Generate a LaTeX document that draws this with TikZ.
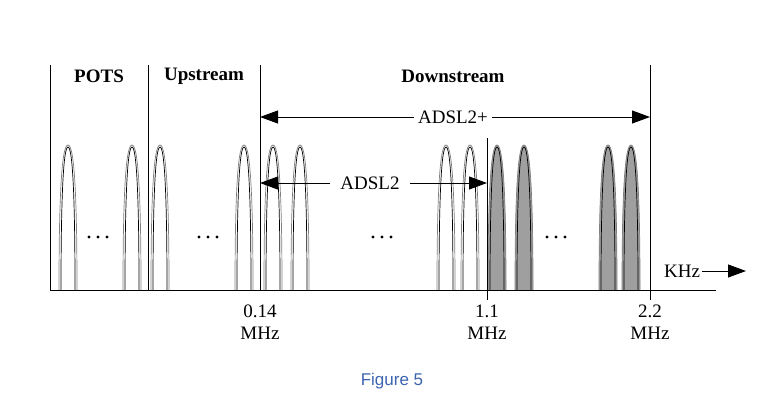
\documentclass[tikz,border=0pt]{standalone}
\usepackage{fontspec}
\setmainfont{Liberation Serif}
\newfontfamily\figfont{Liberation Sans}
\usetikzlibrary{arrows.meta}
\definecolor{figblue}{RGB}{60,100,175}
\tikzset{
  vline/.style={line width=0.9pt},
  arr/.style={line width=0.9pt,-{Triangle[length=18pt,width=13pt]}},
  lbl/.style={font=\fontsize{19}{22}\selectfont, inner sep=1pt},
  blbl/.style={font=\fontsize{19}{22}\selectfont\bfseries, inner sep=1pt},
  dotstyle/.style={circle,fill=black,inner sep=0pt,minimum size=3.2pt},
}
\newcommand{\hump}[2]{%
  \fill[#2] (#1-9,290) .. controls (#1-9,190) and (#1-6,145) .. (#1,145) .. controls (#1+6,145) and (#1+9,190) .. (#1+9,290) -- cycle;
  \draw[gray,line width=0.7pt] (#1-9,290) .. controls (#1-9,190) and (#1-6,145) .. (#1,145) .. controls (#1+6,145) and (#1+9,190) .. (#1+9,290);
  \draw[black,line width=0.7pt] (#1-7,290) .. controls (#1-7,195) and (#1-4.5,147) .. (#1,147) .. controls (#1+4.5,147) and (#1+7,195) .. (#1+7,290);
}
\begin{document}
\begin{tikzpicture}[x=1pt,y=-1pt]
\useasboundingbox (0,0) rectangle (783,412);
\foreach \c in {68,132,160,244,273,300,446,470} {\hump{\c}{white}}
\foreach \c in {497,524,608,631} {\hump{\c}{gray!75}}
\draw[vline] (50,65) -- (50,290);
\draw[vline] (148,65) -- (148,290);
\draw[vline] (260,65) -- (260,290);
\draw[vline] (487,138) -- (487,300);
\draw[vline] (650,65) -- (650,300);
\draw[line width=1pt] (50,290) -- (716,290);
\node[blbl] (pots) at (99,76) {POTS};
\node[blbl] (up) at (204,76) {Upstream};
\node[blbl] (down) at (453,76) {Downstream};
\coordinate (p1) at (260,117); \coordinate (p2) at (650,117);
\node[lbl,inner sep=4pt] (adslp) at (453,117) {ADSL2+};
\draw[arr] (adslp.west) -- (p1);
\draw[arr] (adslp.east) -- (p2);
\coordinate (q1) at (260,183); \coordinate (q2) at (487,183);
\node[lbl,inner sep=10pt] (adsl) at (370,183) {ADSL2};
\draw[arr] (adsl.west) -- (q1);
\draw[arr] (adsl.east) -- (q2);
\foreach \x in {98,208,382,556} {
  \foreach \d in {-9,0,9} {\node[dotstyle] at (\x+\d,237) {};}
}
\node[lbl,inner sep=2pt] (khz) at (682,271) {KHz};
\coordinate (ke) at (746,271);
\draw[arr] (khz.east) -- (ke);
\node[lbl,align=center] (t1) at (260,322) {0.14\\MHz};
\node[lbl,align=center] (t2) at (487,322) {1.1\\MHz};
\node[lbl,align=center] (t3) at (650,322) {2.2\\MHz};
\node[font=\figfont\fontsize{17}{20}\selectfont,text=figblue] (fig) at (392,381) {Figure 5};
\end{tikzpicture}
\end{document}
